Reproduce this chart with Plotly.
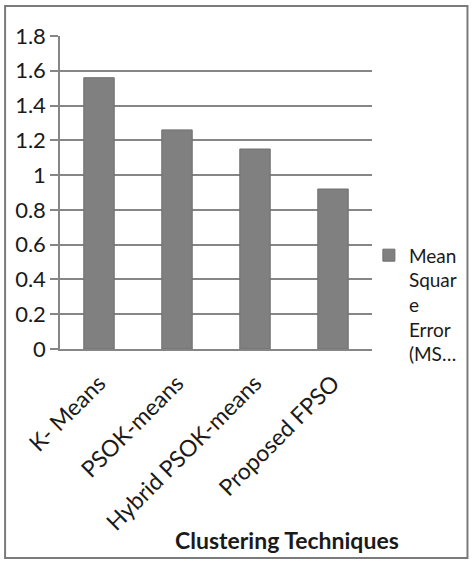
import plotly.graph_objects as go

# Clustering techniques and their mean square error
techniques = ["K- Means", "PSOK-means", "Hybrid PSOK-means", "Proposed FPSO"]
mse = [1.56, 1.26, 1.15, 0.92]
series_name = "Mean<br>Squar<br>e<br>Error<br>(MS…"
y_ticks = [0, 0.2, 0.4, 0.6, 0.8, 1, 1.2, 1.4, 1.6, 1.8]
y_tick_labels = ["0", "0.2", "0.4", "0.6", "0.8", "1", "1.2", "1.4", "1.6", "1.8"]

font_family = "Lato, Open Sans, sans-serif"
grey = "#868686"

fig = go.Figure()
fig.add_trace(go.Bar(
    x=techniques,
    y=mse,
    name=series_name,
    marker=dict(color="#808080", line=dict(color="#6e6e6e", width=1)),
    showlegend=True,
))

# plot area is 60..372 px wide, 36..349 px tall
fig.update_layout(
    width=474,
    height=563,
    margin=dict(l=60, r=102, t=36, b=214),
    paper_bgcolor="white",
    plot_bgcolor="white",
    font=dict(family=font_family, size=20, color="#1a1a1a"),
    bargap=0.61,
    showlegend=True,
    legend=dict(
        x=0.99, y=0.36, xanchor="left", yanchor="top",
        valign="top", itemwidth=30,
        font=dict(size=19),
        bgcolor="rgba(0,0,0,0)",
    ),
    xaxis=dict(
        tickangle=-45,
        showline=True, linecolor=grey, linewidth=1.5,
        showgrid=False,
        ticks="",
        ticklabelstandoff=10,
        tickfont=dict(size=23),
        automargin=False,
    ),
    yaxis=dict(
        range=[0, 1.8],
        tickvals=y_ticks,
        ticktext=y_tick_labels,
        showline=True, linecolor=grey, linewidth=1.5,
        showgrid=True, gridcolor=grey, gridwidth=1.5,
        ticks="outside", ticklen=8, tickcolor=grey, tickwidth=1.5,
        tickfont=dict(size=22),
        zeroline=False,
        automargin=False,
    ),
    annotations=[dict(
        text="<b>Clustering Techniques</b>",
        xref="paper", yref="paper",
        x=0.728, y=-0.61, xanchor="center", yanchor="middle",
        showarrow=False, font=dict(size=23),
    )],
    shapes=[dict(
        type="rect", xref="paper", yref="paper",
        x0=-0.176, x1=1.306, y0=-0.668, y1=1.096,
        line=dict(color="#7a7a7a", width=2), layer="below",
    )],
)

fig.write_html(
    "out.html",
    config={"displayModeBar": False},
    post_script="document.body.style.margin='0';"
                "document.body.style.overflow='hidden';"
                "document.documentElement.style.overflow='hidden';",
)
